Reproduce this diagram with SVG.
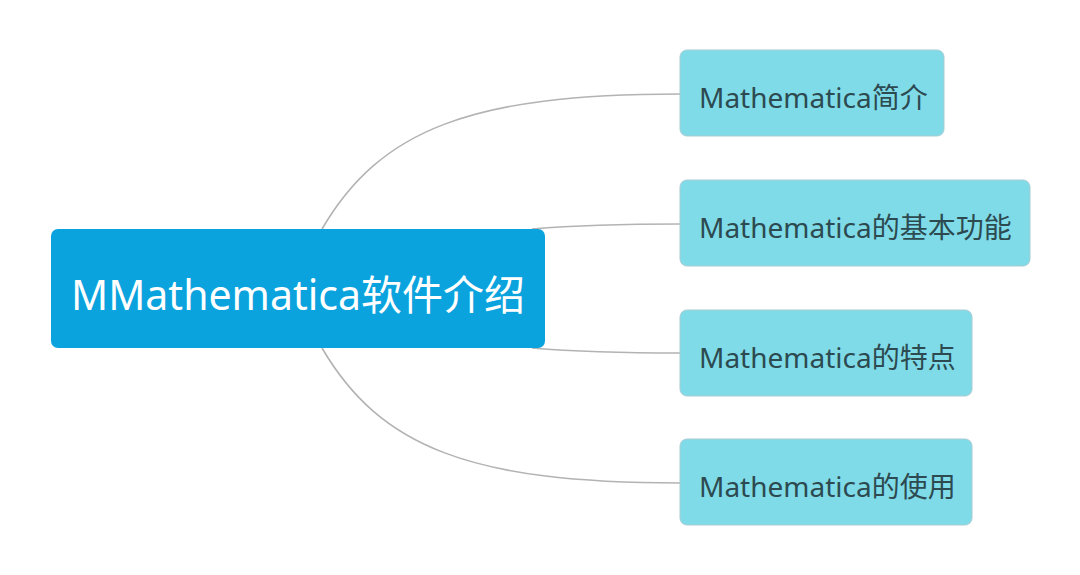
<svg xmlns="http://www.w3.org/2000/svg" width="1080" height="575" viewBox="0 0 1080 575">
<style>
.conn{fill:none;stroke:#b3b3b3;stroke-width:1.6}
.child rect{fill:#80dbe8;stroke:#a9cbd2;stroke-width:1}
.child text{font-family:"Noto Sans","Noto Sans CJK SC",sans-serif;font-size:28px;fill:#2c4a50}
.root rect{fill:#0ba3de}
.root text{font-family:"Noto Sans","Noto Sans CJK SC",sans-serif;font-size:41px;fill:#ffffff;text-anchor:middle}
</style>
<rect width="1080" height="575" fill="#ffffff"/>
<g id="connectors">
<path class="conn" d="M322,229 C380,130 470,94 680,94"/>
<path class="conn" d="M532,229 C580,225 620,224 680,224"/>
<path class="conn" d="M532,348 C580,352 620,353 680,353"/>
<path class="conn" d="M322,348 C380,447 470,483 680,483"/>
</g>
<g id="root" class="root">
<rect x="51" y="229" width="494" height="119" rx="7"/>
<text x="298" y="310">MMathematica软件介绍</text>
</g>
<g id="n1" class="child">
<rect x="680" y="50" width="264" height="86" rx="7"/>
<text x="699" y="108">Mathematica简介</text>
</g>
<g id="n2" class="child">
<rect x="680" y="180" width="350" height="86" rx="7"/>
<text x="699" y="238">Mathematica的基本功能</text>
</g>
<g id="n3" class="child">
<rect x="680" y="310" width="292" height="86" rx="7"/>
<text x="699" y="368">Mathematica的特点</text>
</g>
<g id="n4" class="child">
<rect x="680" y="439" width="292" height="86" rx="7"/>
<text x="699" y="497">Mathematica的使用</text>
</g>
</svg>
